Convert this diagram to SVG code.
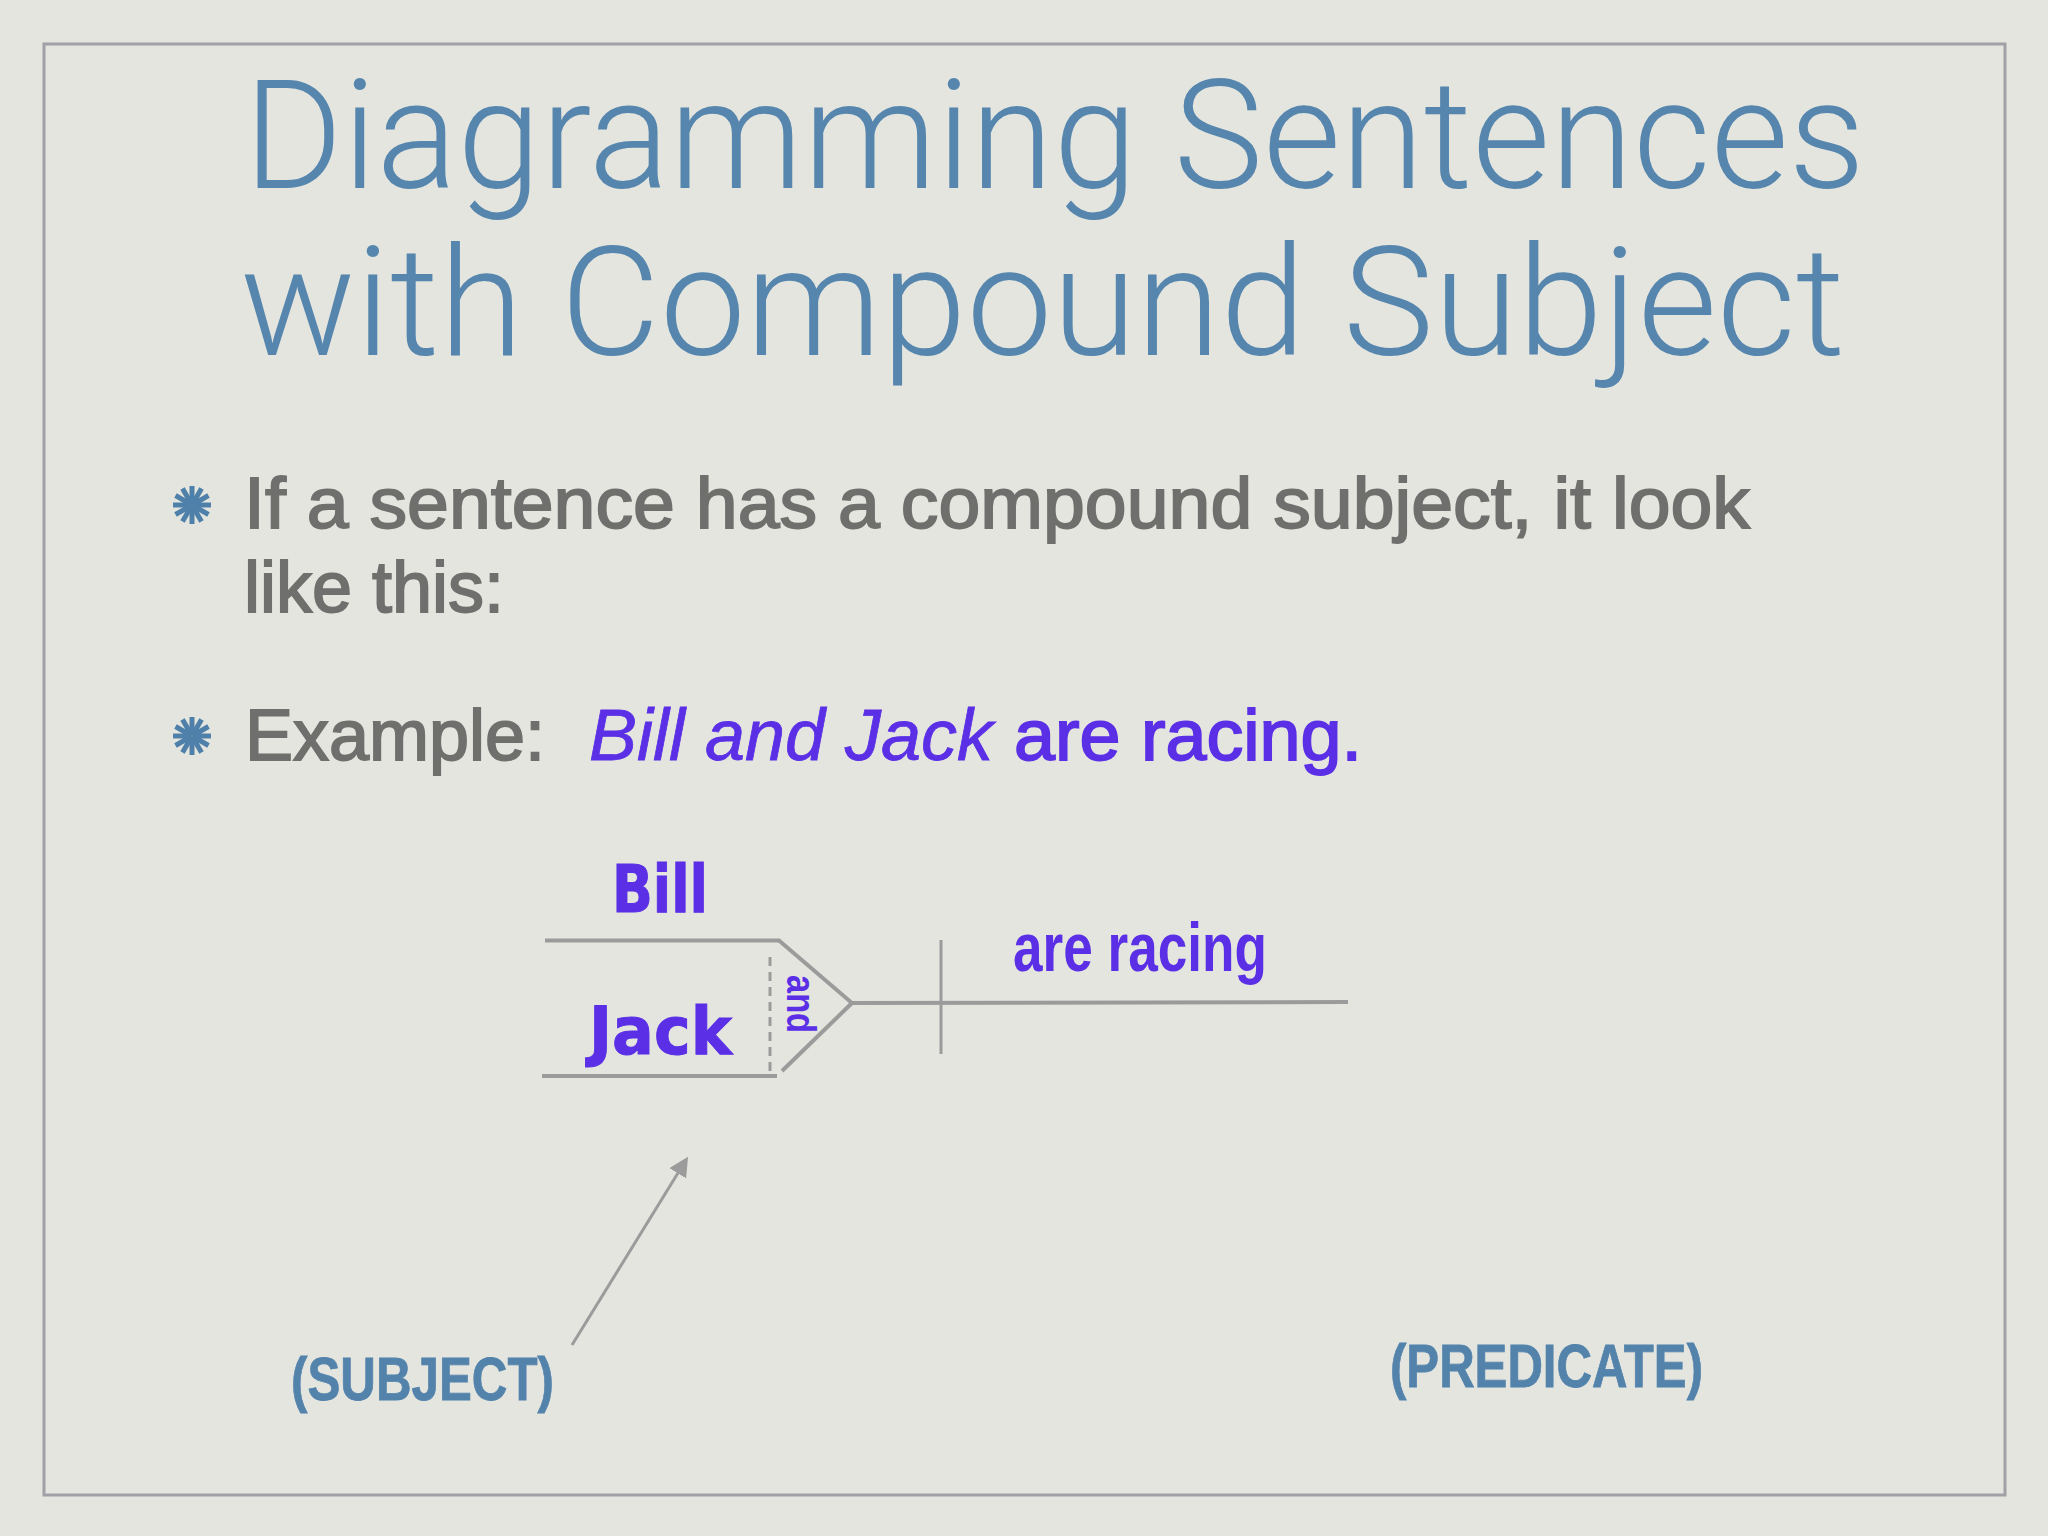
<svg xmlns="http://www.w3.org/2000/svg" xmlns:xlink="http://www.w3.org/1999/xlink" width="2048" height="1536" viewBox="0 0 2048 1536">
  <defs>
    <style>
      .title { font-family: Roboto, "Liberation Sans", sans-serif; font-weight: 300; font-size: 153px; fill: #5686ad; }
      .body { font-family: "Liberation Sans", Arial, sans-serif; font-size: 72px; fill: #6f6f6d; stroke: #6f6f6d; stroke-width: 1.8px; }
      .purple { fill: #5a2fe6; stroke: #5a2fe6; }
      .ital { font-style: italic; stroke-width: 0.8px; }
      .word { font-family: "DejaVu Sans", Verdana, sans-serif; font-weight: bold; font-size: 65px; fill: #5a2fe6; stroke: #5a2fe6; stroke-width: 1px; }
      .narrow { font-family: "Liberation Sans Narrow", "Arial Narrow", "Liberation Sans", sans-serif; font-weight: bold; fill: #5a2fe6; }
      .label { font-family: "Liberation Sans Narrow", "Arial Narrow", "Liberation Sans", sans-serif; font-weight: bold; font-size: 62px; fill: #5383ab; stroke: #5383ab; stroke-width: 0.8px; }
      .ln { stroke: #9b9b9b; stroke-width: 4; fill: none; stroke-linecap: butt; }
      .dash { stroke: #9b9b9b; stroke-width: 3; fill: none; stroke-dasharray: 9 6; }
      .thin { stroke: #9b9b9b; stroke-width: 3; fill: none; }
    </style>
    <g id="star">
      <g stroke="#4f80aa" stroke-width="5" stroke-linecap="butt">
        <line x1="-19" y1="0" x2="19" y2="0"/>
        <line x1="0" y1="-19" x2="0" y2="19"/>
        <line x1="-16.5" y1="-9.5" x2="16.5" y2="9.5"/>
        <line x1="-16.5" y1="9.5" x2="16.5" y2="-9.5"/>
        <line x1="-9.5" y1="-16.5" x2="9.5" y2="16.5"/>
        <line x1="-9.5" y1="16.5" x2="9.5" y2="-16.5"/>
      </g>
    </g>
    <marker id="arrow" viewBox="0 0 10 10" refX="8" refY="5" markerWidth="6.5" markerHeight="6.5" orient="auto" markerUnits="strokeWidth">
      <path d="M0,0 L10,5 L0,10 Z" fill="#9b9b9b"/>
    </marker>
  </defs>

  <rect x="0" y="0" width="2048" height="1536" fill="#e4e5df"/>
  <rect x="44" y="44" width="1961" height="1451" fill="none" stroke="#a0a0a6" stroke-width="3"/>

  <g id="title">
    <text class="title" x="244" y="188" textLength="1621" lengthAdjust="spacingAndGlyphs">Diagramming Sentences</text>
    <text class="title" x="240" y="355" textLength="1605" lengthAdjust="spacingAndGlyphs">with Compound Subject</text>
  </g>

  <g id="bullet1">
    <use xlink:href="#star" x="192" y="505"/>
    <text class="body" x="244" y="528" textLength="1506" lengthAdjust="spacingAndGlyphs">If a sentence has a compound subject, it look</text>
    <text class="body" x="244" y="612">like this:</text>
  </g>

  <g id="bullet2">
    <use xlink:href="#star" x="192" y="736"/>
    <text class="body" x="245" y="760" textLength="300" lengthAdjust="spacingAndGlyphs">Example:</text>
    <text class="body purple ital" x="589" y="760" textLength="404" lengthAdjust="spacingAndGlyphs">Bill and Jack</text>
    <text class="body purple" x="1014" y="760" textLength="348" lengthAdjust="spacingAndGlyphs">are racing.</text>
  </g>

  <g id="connectors">
    <line class="ln" x1="545" y1="940.5" x2="780" y2="940.5"/>
    <line class="ln" x1="542" y1="1076" x2="777" y2="1076"/>
    <polyline class="ln" points="779,940.5 852,1003 782,1071"/>
    <line class="dash" x1="770" y1="957" x2="770" y2="1072"/>
    <line class="ln" x1="850" y1="1003" x2="1348" y2="1002"/>
    <line class="thin" x1="941" y1="940" x2="941" y2="1054"/>
    <line class="thin" x1="572" y1="1345" x2="686" y2="1160" marker-end="url(#arrow)"/>
  </g>

  <g id="node-bill">
    <text class="word" x="612" y="912" textLength="96" lengthAdjust="spacingAndGlyphs">Bill</text>
  </g>
  <g id="node-jack">
    <text class="word" x="589" y="1054" textLength="143" lengthAdjust="spacingAndGlyphs">Jack</text>
  </g>
  <g id="node-and">
    <text class="narrow" font-size="41" transform="translate(787,975) rotate(90)" textLength="58" lengthAdjust="spacingAndGlyphs">and</text>
  </g>
  <g id="node-predicate">
    <text class="narrow" font-size="68" x="1013" y="971" textLength="254" lengthAdjust="spacingAndGlyphs">are racing</text>
  </g>

  <g id="label-subject">
    <text class="label" x="291" y="1400" textLength="263" lengthAdjust="spacingAndGlyphs">(SUBJECT)</text>
  </g>
  <g id="label-predicate">
    <text class="label" font-size="63" x="1390" y="1387" textLength="313" lengthAdjust="spacingAndGlyphs">(PREDICATE)</text>
  </g>
</svg>
